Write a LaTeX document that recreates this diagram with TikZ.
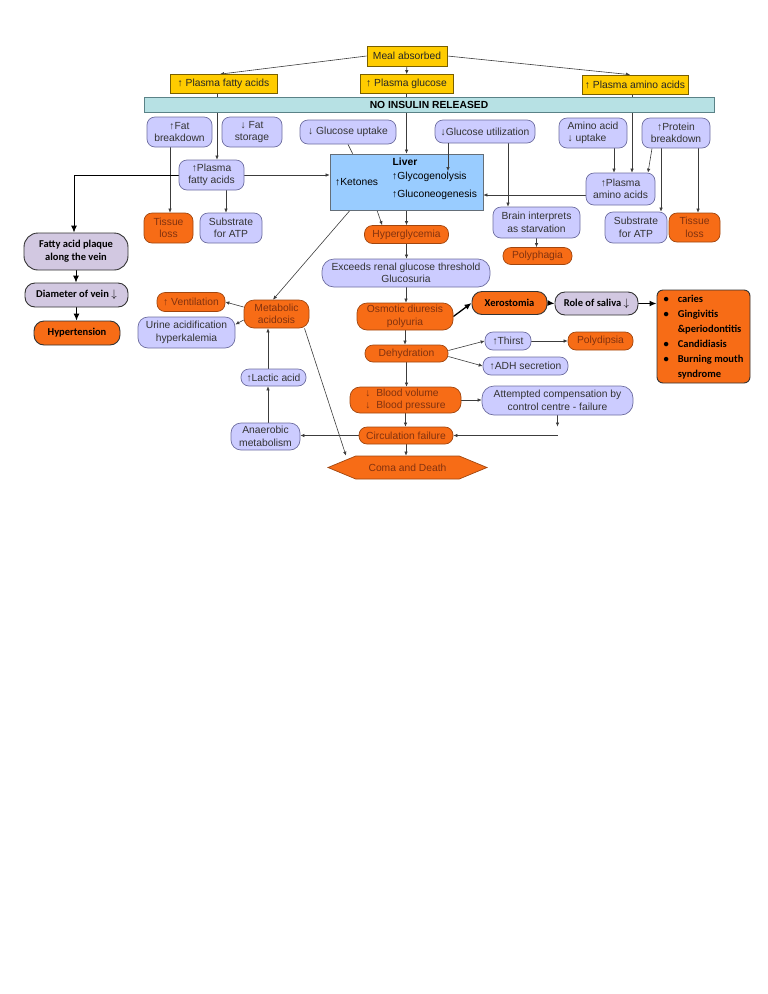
\documentclass[tikz,border=0pt]{standalone}
\usepackage{fontspec}
\usetikzlibrary{arrows.meta,shapes.symbols,backgrounds}
\newfontfamily\arl{Liberation Sans}
\newfontfamily\clb{Carlito}
\newcommand{\nf}{\arl\fontsize{10.3}{12.4}\selectfont}
\newcommand{\cbf}{\clb\bfseries\fontsize{10.5}{13}\selectfont}
\definecolor{yelfill}{RGB}{255,204,0}
\definecolor{yelline}{RGB}{120,95,0}
\definecolor{barfill}{RGB}{183,225,228}
\definecolor{barline}{RGB}{90,130,135}
\definecolor{lavfill}{RGB}{204,204,255}
\definecolor{lavline}{RGB}{110,110,160}
\definecolor{livfill}{RGB}{153,204,255}
\definecolor{livline}{RGB}{100,110,120}
\definecolor{orgfill}{RGB}{247,108,22}
\definecolor{orgline}{RGB}{160,70,15}
\definecolor{orgtext}{RGB}{130,50,15}
\definecolor{plqfill}{RGB}{210,200,225}
\definecolor{lnc}{RGB}{60,60,60}

\begin{document}
\begin{tikzpicture}[x={(1pt,0pt)}, y={(0pt,-1pt)},
    wh/.style 2 args={minimum width=#1pt, minimum height=#2pt},
    yel/.style={draw=yelline, fill=yelfill, line width=0.7pt, font=\nf, text=black!85, inner sep=1pt},
    lav/.style={draw=lavline, fill=lavfill, rounded corners=8pt, line width=0.7pt, font=\nf, text=black!80, align=center, inner sep=1pt},
    org/.style={draw=orgline, fill=orgfill, rounded corners=8pt, line width=0.7pt, font=\nf, text=orgtext, align=center, inner sep=1pt},
    borg/.style={org, text=black, font=\cbf, line width=0.9pt, draw=black!80},
    plq/.style={draw=black!80, fill=plqfill, rounded corners=10pt, line width=0.9pt, font=\cbf, align=center, inner sep=1pt},
    liv/.style={draw=livline, fill=livfill, line width=0.7pt},
    ln/.style={draw=lnc, line width=0.6pt, -{Latex[length=4pt,width=3.5pt]}},
    thk/.style={draw=black, line width=1.3pt, -{Latex[length=7pt,width=6pt]}}]

    \useasboundingbox (0,0) rectangle (768,994);

    \node[yel, wh={80}{20}] (meal) at (407,56) {Meal absorbed};
    \node[yel, wh={107}{19}] (pfa) at (223.5,84) {↑ Plasma fatty acids};
    \node[yel, wh={93}{19}] (pgl) at (406.5,84) {↑ Plasma glucose};
    \node[yel, wh={106}{19}] (paa) at (635,84.5) {↑ Plasma amino acids};

    \node[draw=barline, fill=barfill, line width=0.7pt, wh={570}{15}, inner sep=0pt,
          font=\arl\bfseries\fontsize{10.3}{12}\selectfont] (bar) at (429,104.5) {NO INSULIN RELEASED};

    \node[lav, wh={65}{30}] (fatbrk) at (179.5,132) {↑Fat\\breakdown};
    \node[lav, wh={60}{30}] (fatsto) at (252,132) {↓ Fat\\storage};
    \node[lav, wh={96}{24}] (gluup) at (348,132) {↓ Glucose uptake};
    \node[lav, wh={100}{23}] (gluut) at (485,131.5) {↓Glucose utilization};
    \node[lav, wh={68}{30}, align=left] (aaup) at (593,133) {Amino acid\\↓ uptake};
    \node[lav, wh={68}{30}] (protbrk) at (676,133) {↑Protein\\breakdown};

    \node[liv, wh={153}{56}] (liver) at (406.5,182) {};
    \node[font=\arl\bfseries\fontsize{10.3}{12}\selectfont, inner sep=1pt] (livert) at (405,162) {Liver};
    \node[font=\nf, anchor=west, inner sep=1pt] (keto) at (334,182) {↑Ketones};
    \node[font=\nf, anchor=west, inner sep=1pt] (glyco) at (391,177) {↑Glycogenolysis};
    \node[font=\nf, anchor=west, inner sep=1pt] (gneo) at (391,195) {↑Gluconeogenesis};
    \draw[ln] ([xshift=-37pt]gluut.south) -- ([xshift=-37pt]gluut.south |- glyco.north);

    \node[lav, wh={65}{30}] (plfa) at (211.5,175) {↑Plasma\\fatty acids};
    \node[lav, wh={69}{32}] (plaa) at (620.5,189) {↑Plasma\\amino acids};
    \node[org, wh={49}{30}] (tl1) at (168.5,228) {Tissue\\loss};
    \node[lav, wh={62}{30}] (atp1) at (231,228) {Substrate\\for ATP};
    \node[lav, wh={87}{31}] (brain) at (536.5,222.5) {Brain interprets\\as starvation};
    \node[org, wh={69}{17}] (polyph) at (537.5,256) {Polyphagia};
    \node[lav, wh={62}{31}] (atp2) at (636,227.5) {Substrate\\for ATP};
    \node[org, wh={51}{29}] (tl2) at (694.5,227.5) {Tissue\\loss};

    \node[org, wh={84}{18}] (hyper) at (406.5,234.5) {Hyperglycemia};
    \node[lav, wh={168}{28}, rounded corners=12pt] (exceeds) at (406,273) {Exceeds renal glucose threshold\\Glucosuria};
    \node[org, wh={96}{27}, rounded corners=10pt] (osm) at (405,316.5) {Osmotic diuresis\\polyuria};
    \node[org, wh={83}{17}] (dehyd) at (406.5,353.5) {Dehydration};
    \node[org, wh={111}{26}, rounded corners=10pt, align=left] (blood) at (405.5,400) {↓\ \ Blood volume\\↓\ \ Blood pressure};
    \node[org, wh={94}{17}] (circ) at (406,435.5) {Circulation failure};
    \node[org, sharp corners, signal, signal to=west and east, signal pointer angle=45,
          wh={159}{23}, inner sep=0pt] (coma) at (407.5,467.5) {Coma and Death};

    \node[borg, wh={75}{23}, rounded corners=10pt] (xero) at (509.5,303) {Xerostomia};
    \node[plq, wh={83}{23}] (role) at (596.5,303.5) {Role of saliva $\downarrow$};
    \node[borg, wh={93}{93}, rounded corners=6pt, font=\clb\bfseries\fontsize{10.5}{15}\selectfont] (bul) at (703.5,336.5)
        {\begin{tabular}{@{}l@{\hspace{9pt}}l@{}}
         \textbullet & caries\\
         \textbullet & Gingivitis\\
                     & \&periodontitis\\
         \textbullet & Candidiasis\\
         \textbullet & Burning mouth\\
                     & syndrome
         \end{tabular}};
    \node[lav, wh={46}{18}] (thirst) at (508,341) {↑Thirst};
    \node[org, wh={65}{18}] (polyd) at (600.5,341) {Polydipsia};
    \node[lav, wh={85}{18}] (adh) at (525.5,366) {↑ADH secretion};
    \node[lav, wh={151}{29}, rounded corners=12pt] (attempt) at (557.5,400.5) {Attempted compensation by\\control centre - failure};
    \coordinate (fb) at (attempt.south |- circ.east);

    \node[plq, wh={104}{37}, rounded corners=14pt] (plaque) at (76,251.5) {Fatty acid plaque\\along the vein};
    \node[plq, wh={103}{24}] (diam) at (76.5,295) {Diameter of vein $\downarrow$};
    \node[borg, wh={86}{24}, rounded corners=10pt] (hyp) at (77,333) {Hypertension};

    \node[org, wh={68}{19}] (vent) at (191,302) {↑ Ventilation};
    \node[org, wh={65}{28}, rounded corners=10pt] (meta) at (276.5,314) {Metabolic\\acidosis};
    \node[lav, wh={97}{31}, rounded corners=10pt] (urine) at (186.5,332.5) {Urine acidification\\hyperkalemia};
    \node[lav, wh={65}{17}] (lactic) at (273.5,377.5) {↑Lactic acid};
    \node[lav, wh={69}{27}, rounded corners=10pt] (anaer) at (265.5,436.5) {Anaerobic\\metabolism};

    \begin{scope}[on background layer]
    \draw[ln] (meal.west) -- ([xshift=-3.5pt]pfa.north);
    \draw[ln] (meal) edge (pgl);
    \draw[ln] (meal.east) -- ([xshift=-5pt]paa.north);

    \draw[ln] ([xshift=-6.5pt]pfa.south) -- ([xshift=-6.5pt]pfa.south |- plfa.north);
    \draw[ln] (pgl.south) -- (pgl.south |- liver.north);
    \draw[ln] ([xshift=-3pt]paa.south) -- ([xshift=-3pt]paa.south |- plaa.north);

    \draw[ln] ([xshift=-9.5pt]fatbrk.south) -- ([xshift=-9.5pt]fatbrk.south |- tl1.north);
    \draw[ln] ([xshift=14.5pt]plfa.south) -- ([xshift=14.5pt]plfa.south |- atp1.north);
    \draw[ln] (plfa.east) -- (plfa.east -| liver.west);
    \draw[thk, line width=1pt] (plfa.west) -| ([xshift=-2pt]plaque.north);
    \draw[draw=lnc, line width=0.6pt] (gluup.south) -- ([xshift=23pt]liver.north west);
    \draw[ln] ([xshift=23pt]gluut.south) -- ([xshift=23pt]gluut.south |- brain.north);
    \draw[ln] ([yshift=-6pt]plaa.west) -- ([yshift=-6pt]plaa.west -| liver.east);
    \draw[ln] ([xshift=21pt]aaup.south) -- ([xshift=21pt]aaup.south |- plaa.north);
    \draw[ln] ([xshift=-24pt]protbrk.south) -- ([xshift=27.5pt]plaa.north);
    \draw[ln] ([xshift=-15pt]protbrk.south) -- ([xshift=-15pt]protbrk.south |- atp2.north);
    \draw[ln] ([xshift=22pt]protbrk.south) -- ([xshift=22pt]protbrk.south |- tl2.north);
    \draw[ln] (brain.south) -- (brain.south |- polyph.north);

    \draw[ln] ([xshift=-29.5pt]liver.south) -- ([xshift=18pt]hyper.north west);
    \draw[ln] (liver.south) -- (liver.south |- hyper.north);
    \draw[ln] ([xshift=-56.5pt]liver.south) -- ([xshift=-3.5pt]meta.north);
    \draw[ln] (hyper.south) -- (hyper.south |- exceeds.north);
    \draw[ln] (exceeds.south) -- (exceeds.south |- osm.north);
    \draw[ln] (osm.south) -- (osm.south |- dehyd.north);
    \draw[ln] (dehyd.south) -- (dehyd.south |- blood.north);
    \draw[ln] (blood.south) -- (blood.south |- circ.north);
    \draw[ln] (circ.south) -- (circ.south |- coma.north);

    \draw[thk] (osm.east) -- (xero.west);
    \draw[thk] (xero.east) -- (role.west);
    \draw[thk] (role.east) -- (role.east -| bul.west);

    \draw[ln] ([yshift=3pt]dehyd.east) -- (thirst.west);
    \draw[ln] ([yshift=-3pt]dehyd.east) -- (adh.west);
    \draw[ln] (thirst) edge (polyd);
    \draw[ln] (blood.east) -- (blood.east -| attempt.west);
    \draw[ln] (attempt.south) -- ([yshift=9pt]fb);
    \draw[ln] (fb) -- (circ.east);

    \draw[ln] (circ.west) -- (circ.west -| anaer.east);
    \draw[ln] ([xshift=2.5pt]anaer.north) -- ([xshift=2.5pt]anaer.north |- lactic.south);
    \draw[ln] ([xshift=-5.5pt]lactic.north) -- ([xshift=-5.5pt]lactic.north |- meta.south);
    \draw[ln] ([yshift=7pt]meta.west) -- (vent.east);
    \draw[ln] ([yshift=-6pt]meta.west) -- ([yshift=8pt]urine.east);
    \draw[ln] ([xshift=28pt]meta.south) -- ([xshift=-61.5pt]coma.north);

    \draw[thk, line width=1pt] (plaque.south) -- (plaque.south |- diam.north);
    \draw[thk, line width=1pt] (diam.south) -- (diam.south |- hyp.north);
    \end{scope}
\end{tikzpicture}
\end{document}
